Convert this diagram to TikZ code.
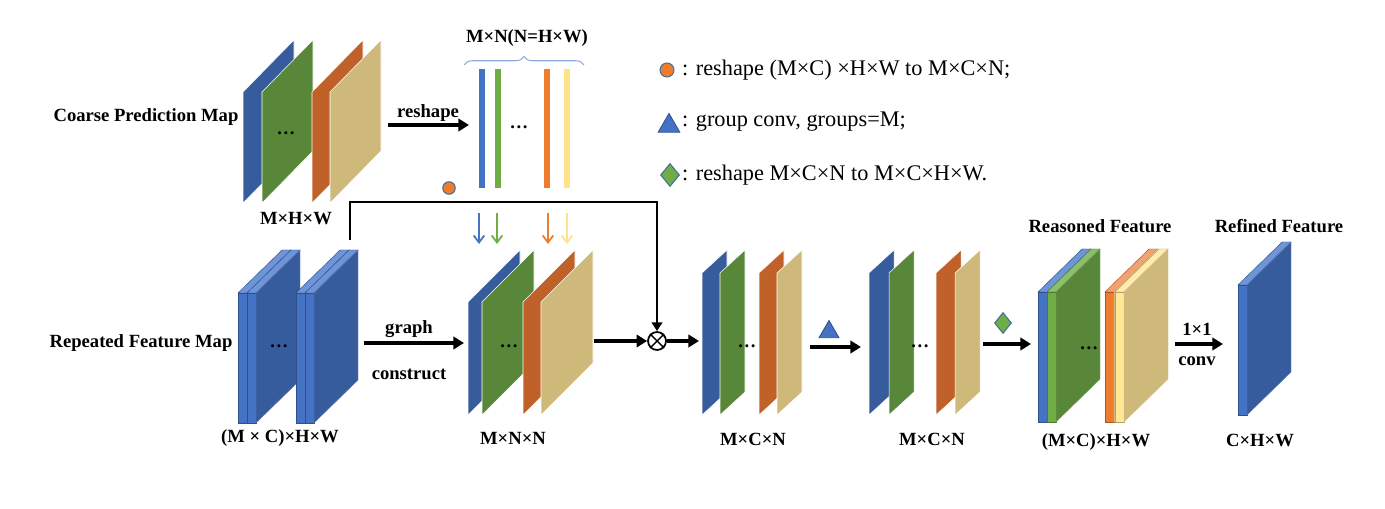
\documentclass[tikz,border=0pt]{standalone}
\usepackage{fontspec}
\setmainfont{Liberation Serif}
\usepackage{xcolor}
\usetikzlibrary{shapes,arrows.meta,positioning,calc,decorations.pathreplacing}

\definecolor{pblue}{HTML}{375C9E}
\definecolor{pgreen}{HTML}{588739}
\definecolor{porange}{HTML}{C0612A}
\definecolor{ptan}{HTML}{CEB87A}
\definecolor{sblue}{HTML}{4472C4}
\definecolor{tblue}{HTML}{6E95D8}
\definecolor{sgreen}{HTML}{70AD47}
\definecolor{tgreen}{HTML}{8DBE6B}
\definecolor{sorange}{HTML}{EF7B2C}
\definecolor{torange}{HTML}{F4A071}
\definecolor{syellow}{HTML}{FFE699}
\definecolor{tyellow}{HTML}{FFEBAA}
\definecolor{byellow}{HTML}{FFE38C}
\definecolor{bracec}{HTML}{8FAADC}
\definecolor{edgec}{HTML}{41719C}
\definecolor{edgeb}{HTML}{2F528F}

% thick slab: x, y (top left), strip, top, face
\newcommand{\featslab}[5]{%
  \filldraw[fill=#4,draw=#3!70!black,line width=0.25pt] (#1,#2) -- ++(44,-43) -- ++(9,0) -- ++(-44,43) -- cycle;
  \filldraw[fill=#3,draw=#3!70!black,line width=0.25pt] (#1,#2) rectangle ++(9,130);
  \filldraw[fill=#5,draw=#5!80!white,line width=0.25pt] (#1+9,#2) -- ++(44,-43) -- ++(0,130) -- ++(-44,43) -- cycle;
}

\begin{document}
\begin{tikzpicture}[x=0.02cm,y=-0.02cm,
  lbl/.style={font=\fontsize{10.6}{12}\selectfont\bfseries},
  note/.style={font=\fontsize{12.7}{14}\selectfont,anchor=west},
  flow/.style={line width=2.2pt,-{Triangle[length=6pt,width=7pt]}},
  link/.style={line width=1.6pt,-{Triangle[length=5pt,width=6pt]}},
  drop/.style={line width=1pt,-{Straight Barb[length=4pt,width=6pt]}},
  bar/.style={line width=3pt},
  plate/.style={draw=white,line width=0.3pt}]
                \useasboundingbox (0,0) rectangle (1385,509);

                % Coarse prediction map
                \foreach \px/\col in {243/pblue,262/pgreen,312/porange,330/ptan}
                  \path[plate,fill=\col] (\px,92) -- ++(51,-52) -- ++(0,111) -- ++(-51,52) -- cycle;
                \node[lbl] (cpm) at (146,117) {Coarse Prediction Map};
                \node[lbl] (cpmdots) at (286,133) {…};
                \node[lbl] (cpmsize) at (296,219) {M×H×W};

                % Reshape to bars
                \coordinate (cpmR) at (388,125);
                \coordinate (barsL) at (469,125);
                \draw[flow] (cpmR) -- (barsL);
                \node[lbl] (reshape) at (428,113) {reshape};
                \foreach \bx/\col in {482/sblue,498/sgreen,547/sorange,567/byellow}
                  \draw[bar,\col] (\bx,69) -- (\bx,188);
                \node[lbl] (bardots) at (519,127) {…};
                \coordinate (brL) at (464,65);
                \coordinate (brR) at (584,65);
                \draw[bracec,line width=0.6pt,decorate,decoration={brace,amplitude=0.17cm}] (brL) -- (brR);
                \node[lbl] (barsize) at (527,38) {M×N(N=H×W)};
                \node[circle,fill=sorange,draw=edgec,line width=0.6pt,minimum size=0.25cm,inner sep=0] (odot) at (449,188) {};

                % Drops onto graph
                \foreach \bx/\col [count=\i] in {479/sblue,497/sgreen,548/sorange,567/byellow} {
                  \coordinate (da\i) at (\bx,213);
                  \coordinate (db\i) at (\bx,244);
                  \draw[drop,\col] (da\i) -- (db\i);
                }

                % Repeated feature map
                \featslab{238}{293}{sblue}{tblue}{pblue}
                \featslab{247}{293}{sblue}{tblue}{pblue}
                \featslab{296}{293}{sblue}{tblue}{pblue}
                \featslab{305}{293}{sblue}{tblue}{pblue}
                \node[lbl] (rfm) at (141,343) {Repeated Feature Map};
                \node[lbl] (rfmdots) at (279,346) {…};
                \node[lbl] (rfmsize) at (280,438) {(M × C)×H×W};

                % Graph construct
                \coordinate (rfmR) at (364,343);
                \coordinate (adjL) at (464,343);
                \draw[flow] (rfmR) -- (adjL);
                \node[lbl] (graph) at (409,329) {graph};
                \node[lbl] (construct) at (409,374) {construct};
                \foreach \px/\col in {468/pblue,482/pgreen,523/porange,541/ptan}
                  \path[plate,fill=\col] (\px,302) -- ++(52,-52) -- ++(0,113) -- ++(-52,52) -- cycle;
                \node[lbl] (adjdots) at (509,346) {…};
                \node[lbl] (adjsize) at (513,438) {M×N×N};

                % Multiply
                \node[circle,draw,line width=1pt,minimum size=0.36cm,inner sep=0] (mul) at (657,341) {};
                \draw[line width=0.8pt] (mul.north west) -- (mul.south east);
                \draw[line width=0.8pt] (mul.north east) -- (mul.south west);
                \coordinate (adjR) at (594,341);
                \draw[flow] (adjR) -- (mul.west);
                \coordinate (rfmTop) at (350,240);
                \coordinate (bend) at (657,202);
                \draw[link] (rfmTop) |- (bend) -- (mul.north);
                \coordinate (mcnaL) at (699,341);
                \draw[flow] (mul.east) -- (mcnaL);

                % M x C x N stacks
                \foreach \px/\col in {702/pblue,720/pgreen,759/porange,777/ptan,869/pblue,889/pgreen,936/porange,955/ptan}
                  \path[plate,fill=\col] (\px,273) -- ++(25,-23) -- ++(0,142) -- ++(-25,23) -- cycle;
                \node[lbl] (mcnadots) at (747,346) {…};
                \node[lbl] (mcnbdots) at (920,346) {…};
                \node[lbl] (mcnasize) at (753,439) {M×C×N};
                \node[lbl] (mcnbsize) at (932,439) {M×C×N};
                \coordinate (mcnaR) at (810,347);
                \coordinate (mcnbL) at (861,347);
                \draw[flow] (mcnaR) -- (mcnbL);
                \node[regular polygon,regular polygon sides=3,fill=sblue,draw=edgeb,line width=0.5pt,minimum size=0.46cm,inner sep=0] (gconv) at (829,332) {};
                \coordinate (mcnbR) at (983,344);
                \coordinate (rsnL) at (1031,344);
                \draw[flow] (mcnbR) -- (rsnL);
                \node[diamond,fill=sgreen,draw=edgec,line width=0.6pt,minimum width=0.34cm,minimum height=0.42cm,inner sep=0] (back) at (1003,323) {};

                % Reasoned feature
                \featslab{1038}{292}{sblue}{tblue}{pblue}
                \featslab{1047}{292}{sgreen}{tgreen}{pgreen}
                \featslab{1105}{292}{sorange}{torange}{ptan}
                \featslab{1115}{292}{syellow}{tyellow}{ptan}
                \node[lbl] (rsndots) at (1089,348) {…};
                \node[lbl] (rsn) at (1100,226) {Reasoned Feature};
                \node[lbl] (rsnsize) at (1096,442) {(M×C)×H×W};

                % Refined feature
                \coordinate (rsnR) at (1175,344);
                \coordinate (rfdL) at (1223,344);
                \draw[flow] (rsnR) -- (rfdL);
                \node[lbl] (onebyone) at (1197,329) {1×1};
                \node[lbl] (conv) at (1197,361) {conv};
                \featslab{1238}{285}{sblue}{tblue}{pblue}
                \node[lbl] (rfd) at (1279,226) {Refined Feature};
                \node[lbl] (rfdsize) at (1260,440) {C×H×W};

                % Legend
                \node[circle,fill=sorange,draw=edgec,line width=0.6pt,minimum size=0.28cm,inner sep=0] (keyA) at (667,70) {};
                \node[note] (keyAtext) at (676,70) {: reshape (M×C) ×H×W to M×C×N;};
                \node[regular polygon,regular polygon sides=3,fill=sblue,draw=edgeb,line width=0.5pt,minimum size=0.5cm,inner sep=0] (keyB) at (669,126) {};
                \node[note] (keyBtext) at (676,122) {: group conv, groups=M;};
                \node[diamond,fill=sgreen,draw=edgec,line width=0.6pt,minimum width=0.38cm,minimum height=0.46cm,inner sep=0] (keyC) at (670,175) {};
                \node[note] (keyCtext) at (676,175) {: reshape M×C×N to M×C×H×W.};
            \end{tikzpicture}
\end{document}
